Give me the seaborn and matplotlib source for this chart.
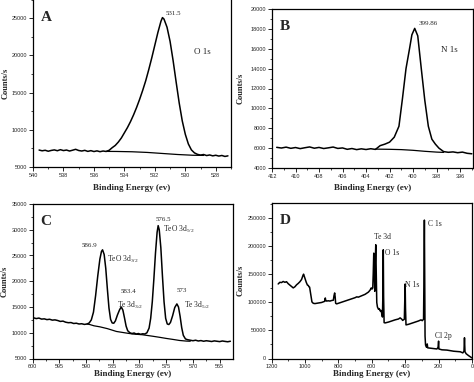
import matplotlib
matplotlib.use("Agg")
import matplotlib.pyplot as plt
from matplotlib.ticker import MultipleLocator
import seaborn as sns

# ---- panel A: O 1s ----
a_x = [539.6, 539.4, 539.2, 539.0, 538.8, 538.6, 538.4, 538.2, 538.0, 537.8,
       537.6, 537.4, 537.2, 537.0, 536.8, 536.6, 536.4, 536.2, 536.0, 535.8,
       535.6, 535.4, 535.2, 535.0, 534.8, 534.6, 534.4, 534.2, 534.0, 533.8,
       533.6, 533.4, 533.2, 533.0, 532.8, 532.6, 532.4, 532.2, 532.0, 531.8,
       531.6, 531.5, 531.4, 531.2, 531.0, 530.8, 530.6, 530.4, 530.2, 530.0,
       529.8, 529.6, 529.4, 529.2, 529.0, 528.8, 528.6, 528.4, 528.2, 528.0,
       527.8, 527.6, 527.4, 527.2]
a_y = [7280, 7180, 7250, 7120, 7230, 7300, 7190, 7330, 7210, 7280,
       7150, 7260, 7380, 7220, 7150, 7240, 7100, 7200, 7080, 7170,
       7060, 7150, 7090, 7250, 7600, 7900, 8350, 8900, 9600, 10300,
       11100, 12000, 13000, 14100, 15300, 16600, 18100, 19700, 21400, 23100,
       24600, 25100, 24900, 23800, 21900, 19300, 16400, 13600, 11200, 9400,
       8100, 7300, 6900, 6700, 6600, 6680, 6540, 6620, 6500, 6580,
       6470, 6550, 6420, 6500]
a_bg_x = [535.2, 534.5, 533.5, 532.5, 531.5, 530.5, 529.5, 528.8]
a_bg_y = [7100, 7090, 7050, 6960, 6820, 6680, 6580, 6560]

# ---- panel B: N 1s ----
b_x = [411.6, 411.2, 410.8, 410.4, 410.0, 409.6, 409.2, 408.8, 408.4, 408.0,
       407.6, 407.2, 406.8, 406.4, 406.0, 405.6, 405.2, 404.8, 404.4, 404.0,
       403.6, 403.2, 402.8, 402.4, 402.0, 401.6, 401.2, 400.9, 400.6, 400.3,
       400.1, 399.86, 399.6, 399.3, 399.0, 398.7, 398.4, 398.1, 397.8, 397.4,
       397.0, 396.6, 396.2, 395.8, 395.4, 395.0]
b_y = [6080, 6010, 6100, 5980, 6060, 5950, 6040, 6120, 5990, 6070,
       5960, 6030, 6110, 5970, 6020, 5880, 5960, 5850, 5930, 5860,
       5940, 5870, 6250, 6400, 6600, 7100, 8200, 11000, 14000, 16000,
       17400, 18050, 17300, 14000, 10800, 8200, 6900, 6400, 6000, 5650,
       5580, 5620, 5540, 5600, 5480, 5430]
b_bg_x = [403.2, 402.0, 401.0, 400.0, 399.0, 398.0, 397.4]
b_bg_y = [5900, 5880, 5850, 5780, 5680, 5600, 5570]

# ---- panel C: Te 3d ----
c_x = [599.8, 599.3, 598.8, 598.3, 597.8, 597.3, 596.8, 596.3, 595.8, 595.3,
       594.8, 594.3, 593.8, 593.3, 592.8, 592.3, 591.8, 591.3, 590.8, 590.3,
       589.8, 589.4, 589.0, 588.6, 588.2, 587.8, 587.4, 587.1, 586.9, 586.6,
       586.3, 586.0, 585.7, 585.4, 585.1, 584.8, 584.5, 584.1, 583.7, 583.4,
       583.1, 582.8, 582.5, 582.2, 581.8, 581.4, 581.0, 580.6, 580.2, 579.8,
       579.4, 579.0, 578.6, 578.2, 577.9, 577.6, 577.3, 577.0, 576.7, 576.5,
       576.3, 576.0, 575.7, 575.4, 575.1, 574.8, 574.5, 574.2, 573.8, 573.4,
       573.0, 572.7, 572.4, 572.1, 571.8, 571.4, 571.0, 570.5, 570.0, 569.5,
       569.0, 568.5, 568.0, 567.5, 567.0, 566.5, 566.0, 565.5, 565.0, 564.5,
       564.0, 563.5, 563.0]
c_y = [12900, 12750, 12850, 12650, 12700, 12550, 12620, 12450, 12500, 12380,
       12200, 12260, 12050, 11950, 11980, 11800, 11850, 11700, 11750, 11620,
       11700, 11900, 12500, 14000, 17200, 21000, 24300, 25800, 26100, 25200,
       22500, 18500, 14800, 12600, 11900, 11850, 12300, 13500, 14500, 15000,
       14400, 12900, 11300, 10400, 10000, 9850, 9950, 9750, 9850, 9700,
       9800, 9750, 10000, 10900, 12800, 16000, 20500, 25500, 29500, 30800,
       30000, 26500, 21000, 16000, 12800, 11700, 11600, 12000, 13300, 14900,
       15600, 15000, 13200, 11000, 9500, 8800, 8650, 8550, 8450, 8550,
       8400, 8480, 8350, 8450, 8380, 8300, 8420, 8350, 8280, 8400,
       8320, 8250, 8350]
c_bg_x = [589.8, 589.3, 588.5, 587.4, 586.0, 584.3, 582.5, 581.2, 579.5,
          578.7, 577.5, 576.2, 575.0, 573.7, 572.5, 571.2, 570.5]
c_bg_y = [11700, 11600, 11350, 11150, 10800, 10250, 9950, 9750, 9620,
          9500, 9320, 9110, 8900, 8700, 8500, 8380, 8350]

# ---- panel D: survey ----
d_x = [1160, 1150, 1140, 1130, 1120, 1110, 1100, 1090, 1080, 1070,
       1060, 1050, 1040, 1030, 1020, 1012, 1008, 1003, 998, 992,
       985, 980, 976, 972, 968, 963, 958, 950, 940, 930,
       920, 910, 900, 890, 882, 878, 875, 870, 860, 850,
       840, 830, 826, 822, 819, 816, 810, 800, 780, 760,
       740, 720, 700, 690, 680, 660, 640, 620, 610, 603,
       598, 594, 591, 588, 585, 582, 579, 576, 573, 570,
       566, 560, 555, 550, 545, 540, 536, 533, 531, 529,
       526, 520, 500, 480, 460, 440, 430, 420, 415, 405,
       402, 400, 398, 395, 380, 360, 340, 320, 305, 298,
       290, 287, 285, 283, 281, 278, 272, 268, 265, 250,
       230, 210, 203, 200, 198, 180, 150, 130, 110, 90,
       70, 55, 48, 45, 42, 35, 20, 10, 0]
d_y = [133000, 136000, 135500, 137500, 136000, 137000, 133500, 131000, 128500, 126000,
       128000, 131500, 134000, 137000, 141000, 148000, 150500, 146000, 141000, 136000,
       131000, 130500, 128000, 127500, 120000, 110000, 101000, 98500, 98000, 98500,
       99000, 99500, 100000, 101000, 102000, 108000, 103000, 102500, 103000, 102500,
       103500, 104000, 112000, 117000, 110000, 98500, 97500, 98500, 100500, 102500,
       104500, 106500, 108500, 110000, 109500, 112000, 114500, 118500, 122000, 126000,
       124000, 126000, 152000, 188000, 160000, 120000, 172000, 203000, 150000, 100000,
       92000, 88000, 89000, 85000, 86000, 80000, 74000, 120000, 194000, 110000,
       64000, 63500, 65000, 67000, 69000, 70500, 72500, 70000, 68000, 70000,
       110000, 133000, 90000, 60000, 61000, 63000, 65000, 67000, 69000, 67500,
       70000, 160000, 247000, 150000, 40000, 24000, 20000, 26000, 19000, 18500,
       18000, 17000, 20000, 31000, 17000, 15500, 15000, 14000, 13000, 12500,
       12000, 10000, 13000, 37000, 12000, 8500, 5000, 3000, 1000]

sns.set_style("ticks")
plt.rcParams["font.family"] = ["Liberation Serif", "DejaVu Serif"]
plt.rcParams["mathtext.fontset"] = "custom"
plt.rcParams["mathtext.rm"] = "Liberation Serif"
plt.rcParams["mathtext.it"] = "Liberation Serif:italic"

fig = plt.figure(figsize=(4.74, 3.82), dpi=100)

W, H = 474.0, 382.0


def make_ax(left, right, top, bottom):
    return fig.add_axes([left / W, 1 - bottom / H, (right - left) / W, (bottom - top) / H])


def style_ax(ax, xlim, ylim, xmaj, ymaj, ylab_x, xlab_y):
    ax.set_xlim(*xlim)
    ax.set_ylim(*ylim)
    ax.xaxis.set_major_locator(MultipleLocator(xmaj))
    ax.xaxis.set_minor_locator(MultipleLocator(xmaj / 2))
    ax.yaxis.set_major_locator(MultipleLocator(ymaj))
    ax.yaxis.set_minor_locator(MultipleLocator(ymaj / 2))
    ax.tick_params(which="major", direction="out", length=3, width=0.7, labelsize=4, pad=1)
    ax.tick_params(which="minor", direction="out", length=1.6, width=0.6)
    ax.tick_params(which="both", top=False, right=False)
    for lab in ax.get_xticklabels() + ax.get_yticklabels():
        lab.set_fontfamily("Liberation Sans")
    for sp in ax.spines.values():
        sp.set_linewidth(0.9)
        sp.set_color("black")
    ax.set_xlabel("Binding Energy (ev)", fontsize=6.5, fontweight="bold")
    ax.set_ylabel("Counts/s", fontsize=6, fontweight="bold")
    ax.yaxis.set_label_coords(ylab_x, 0.5)
    ax.xaxis.set_label_coords(0.5, xlab_y)


def draw(ax, x, y, bx=None, by=None):
    sns.lineplot(x=x, y=y, ax=ax, color="black", linewidth=1.1, sort=False, estimator=None)
    if bx is not None:
        sns.lineplot(x=bx, y=by, ax=ax, color="black", linewidth=0.9, sort=False, estimator=None)


# A
ax_a = make_ax(33, 231, -1, 167)
draw(ax_a, a_x, a_y, a_bg_x, a_bg_y)
style_ax(ax_a, (540, 527), (5000, 27600), 2, 5000, -0.12, -0.10)
ax_a.text(0.04, 0.93, "A", transform=ax_a.transAxes, fontsize=11, fontweight="bold", va="top")
ax_a.text(531.3, 25300, "531.5", fontsize=5, va="bottom")
ax_a.text(529.4, 20500, "O 1s", fontsize=6.5, va="center")

# B
ax_b = make_ax(272, 473, 9, 168)
draw(ax_b, b_x, b_y, b_bg_x, b_bg_y)
style_ax(ax_b, (412, 394.9), (4000, 20000), 2, 2000, -0.135, -0.10)
ax_b.text(0.04, 0.93, "B", transform=ax_b.transAxes, fontsize=11, fontweight="bold", va="top")
ax_b.text(399.55, 18300, "399.86", fontsize=5, va="bottom")
ax_b.text(397.6, 15900, "N 1s", fontsize=6.5, va="center")

# C
ax_c = make_ax(32.5, 232.5, 204, 358.5)
draw(ax_c, c_x, c_y, c_bg_x, c_bg_y)
style_ax(ax_c, (600, 562.6), (5000, 35000), 5, 5000, -0.12, -0.075)
ax_c.text(0.04, 0.93, "C", transform=ax_c.transAxes, fontsize=11, fontweight="bold", va="top")
ax_c.text(589.4, 26900, "586.9", fontsize=5, ha="center", va="center")
ax_c.text(586.0, 24300, r"TeO 3d$_{\mathrm{3/2}}$", fontsize=5.5, va="center")
ax_c.text(583.6, 18000, "583.4", fontsize=5, va="center")
ax_c.text(584.2, 15300, r"Te 3d$_{\mathrm{3/2}}$", fontsize=5.5, va="center")
ax_c.text(577.0, 32000, "576.5", fontsize=5, va="center")
ax_c.text(575.6, 30100, r"TeO 3d$_{\mathrm{5/2}}$", fontsize=5.5, va="center")
ax_c.text(573.1, 18200, "573", fontsize=5, va="center")
ax_c.text(571.7, 15300, r"Te 3d$_{\mathrm{5/2}}$", fontsize=5.5, va="center")

# D
ax_d = make_ax(271.5, 472, 203, 358.5)
draw(ax_d, d_x, d_y)
style_ax(ax_d, (1200, 0), (0, 277500), 200, 50000, -0.135, -0.075)
ax_d.text(0.04, 0.93, "D", transform=ax_d.transAxes, fontsize=11, fontweight="bold", va="top")
ax_d.text(588, 216000, "Te 3d", fontsize=5.5, va="center")
ax_d.text(518, 189000, "O 1s", fontsize=5.5, va="center")
ax_d.text(403, 131000, "N 1s", fontsize=5.5, va="center")
ax_d.text(263, 240000, "C 1s", fontsize=5.5, va="center")
ax_d.text(219, 40000, "Cl 2p", fontsize=5.5, va="center")

fig.savefig("out.png", dpi=100)
